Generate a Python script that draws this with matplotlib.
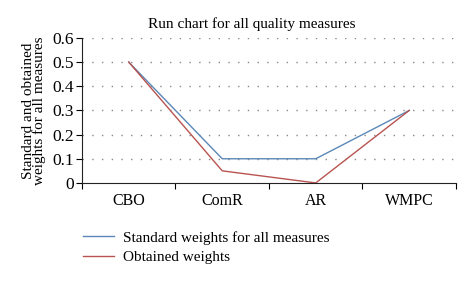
import matplotlib.pyplot as plt
import numpy as np

plt.rcParams['font.family'] = ['Liberation Serif', 'DejaVu Serif']

# Data
measures = ['CBO', 'ComR', 'AR', 'WMPC']
standard_weights = [0.5, 0.1, 0.1, 0.3]
obtained_weights = [0.5, 0.05, 0.0, 0.3]
y_ticks = [0, 0.1, 0.2, 0.3, 0.4, 0.5, 0.6]
y_tick_labels = ['0', '0.1', '0.2', '0.3', '0.4', '0.5', '0.6']

fig = plt.figure(figsize=(4.74, 2.81), dpi=100)
ax = fig.add_axes([0.173, 0.349, 0.789, 0.516])

x = np.arange(len(measures))
l1, = ax.plot(x, standard_weights, color='#5b88b8', lw=1.0,
              label='Standard weights for all measures')
l2, = ax.plot(x, obtained_weights, color='#b85450', lw=1.0,
              label='Obtained weights')

ax.set_xlim(-0.5, len(measures) - 0.5)
ax.set_ylim(0, 0.6)
ax.set_yticks(y_ticks)
ax.set_yticklabels(y_tick_labels, fontsize=12.5)

# ticks on bin edges, labels in bin centres
ax.set_xticks(np.arange(-0.5, len(measures), 1.0))
ax.set_xticklabels([])
ax.set_xticks(x, minor=True)
ax.set_xticklabels(measures, minor=True, fontsize=11.5)
ax.tick_params(axis='x', which='minor', length=0, pad=7)
ax.tick_params(axis='x', which='major', length=4, direction='out', width=0.8)
ax.tick_params(axis='y', length=4, direction='out', width=0.8, pad=2)

for yv in y_ticks[1:]:
    ax.axhline(yv, color='#888888', lw=1.0, ls=(0, (1, 6)), zorder=0)

for s in ['top', 'right']:
    ax.spines[s].set_visible(False)
ax.spines['left'].set_color('#222222')
ax.spines['bottom'].set_color('#222222')

fig.text(0.532, 0.915, 'Run chart for all quality measures', fontsize=11,
         ha='center', va='center')
ax.set_ylabel('Standard and obtained\nweights for all measures', fontsize=11,
              linespacing=0.8, labelpad=4)

fig.legend(handles=[l1, l2], loc='upper left', bbox_to_anchor=(0.163, 0.2),
           frameon=False, fontsize=11, handlelength=2.0, handletextpad=0.6,
           labelspacing=0.4, borderaxespad=0)

fig.savefig('out.png', dpi=100)
